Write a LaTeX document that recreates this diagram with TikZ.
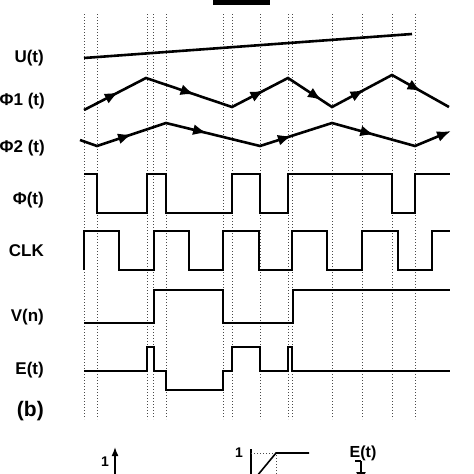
\documentclass[tikz,border=0pt]{standalone}
\usepackage{fontspec}
\setmainfont{Liberation Sans}
\usetikzlibrary{arrows.meta,decorations.markings}
\definecolor{ink}{HTML}{000000}
\definecolor{dotline}{HTML}{4A4A4A}

\begin{document}
\begin{tikzpicture}[x=1pt,y=-1pt,
  lab/.style={anchor=east,inner sep=0pt,text=ink,font=\bfseries\fontsize{17}{17}\selectfont},
  small/.style={inner sep=0pt,text=ink,font=\bfseries\fontsize{14}{14}\selectfont},
  wave/.style={line width=2.6pt,draw=ink},
  thin/.style={line width=1.6pt,draw=ink},
  guide/.style={draw=dotline,line width=0.9pt,dash pattern=on 0.9pt off 2.1pt},
  head/.tip={Latex[length=14pt,width=11pt]},
  arrow/.style={-{Latex[length=14pt,width=11pt]}}
]
\useasboundingbox (0,0) rectangle (474,474);
\fill[ink] (213,-5) rectangle (270,5);

% dotted time marks
\foreach \t in {84,97,147,153.5,166,223,232,260,288.5,292.5,332,362,392,415}
  \draw[guide] (\t,14) -- (\t,419);

% signal names
\node[lab] (lu) at (44,58) {U(t)};
\node[lab] (lpa) at (45,101) {Φ1 (t)};
\node[lab] (lpb) at (45,148) {Φ2 (t)};
\node[lab] (lph) at (44,200) {Φ(t)};
\node[lab] (lclk) at (44,251) {CLK};
\node[lab] (lv) at (44,317) {V(n)};
\node[lab] (le) at (44,370) {E(t)};
\node[lab,font=\bfseries\fontsize{21}{21}\selectfont] (lb) at (44,411) {(b)};

% waveforms
\draw[wave] (84,58) -- (412,34);
\draw[wave,postaction={decorate},decoration={markings,
    mark=at position 39pt with {\arrow{head}},
    mark=at position 121pt with {\arrow{head}},
    mark=at position 197pt with {\arrow{head}},
    mark=at position 264pt with {\arrow{head}},
    mark=at position 313pt with {\arrow{head}},
    mark=at position 378pt with {\arrow{head}}}]
  (84,110) -- (146,78) -- (232,107) -- (288,78) -- (332,107) -- (392,75) -- (449,107);
\draw[wave,arrow,postaction={decorate},decoration={markings,
    mark=at position 55pt with {\arrow{head}},
    mark=at position 133pt with {\arrow{head}},
    mark=at position 221pt with {\arrow{head}},
    mark=at position 307pt with {\arrow{head}}}]
  (80,140) -- (97,146) -- (166,123) -- (260,146) -- (332,123) -- (415,146) -- (451,131);
\draw[wave] (84,174) -- (97,174) -- (97,213) -- (147,213) -- (147,174) -- (166,174)
  -- (166,213) -- (232,213) -- (232,174) -- (260,174) -- (260,213) -- (288,213)
  -- (288,174) -- (392,174) -- (392,213) -- (415,213) -- (415,174) -- (450,174);
\draw[wave] (84,270) -- (84,231) -- (119,231) -- (119,270) -- (154,270) -- (154,231)
  -- (189,231) -- (189,270) -- (223,270) -- (223,231) -- (259,231) -- (259,270)
  -- (292,270) -- (292,231) -- (327,231) -- (327,270) -- (362,270) -- (362,231)
  -- (398,231) -- (398,270) -- (432,270) -- (432,231) -- (450,231);
\draw[wave] (84,323) -- (154,323) -- (154,290) -- (223,290) -- (223,323) -- (293,323)
  -- (293,290) -- (450,290);
\draw[wave] (84,371) -- (147,371) -- (147,347) -- (154,347) -- (154,371) -- (166,371)
  -- (166,390) -- (223,390) -- (223,371) -- (232,371) -- (232,347) -- (260,347)
  -- (260,371) -- (288,371) -- (288,347) -- (292,347) -- (292,371) -- (450,371);

% lower panels (cut off)
\node[small] (ya) at (105,462) {1};
\draw[thin,-{Latex[length=9pt,width=7pt]}] (115,476) -- (115,447);
\node[small] (yb) at (239,453) {1};
\draw[thin] (251,449) -- (251,476);
\draw[guide] (251,453) -- (276,453) -- (276,476);
\draw[thin] (257,476) -- (276,453) -- (309,453);
\node[small,font=\bfseries\fontsize{16}{16}\selectfont] (eo) at (363,453) {E(t)};
\draw[thin] (355,461) -- (361,461);
\draw[thin,-{Latex[length=12pt,width=10pt]}] (361,461) -- (361,484);
\end{tikzpicture}
\end{document}
